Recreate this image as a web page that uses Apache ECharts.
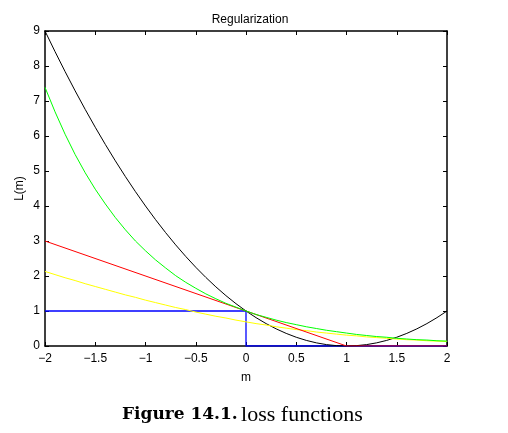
<!DOCTYPE html>
<html>
<head>
<meta charset="utf-8">
<script src="https://cdn.jsdelivr.net/npm/echarts@6/dist/echarts.min.js"></script>
<style>
  html, body { margin: 0; padding: 0; background: #fff; }
  #chart { width: 508px; height: 433px; }
</style>
</head>
<body>
<div id="chart"></div>
<script>
// margin values m, sampled every 0.1
var mVals = [-2, -1.9, -1.8, -1.7, -1.6, -1.5, -1.4, -1.3, -1.2, -1.1, -1, -0.9, -0.8, -0.7, -0.6, -0.5, -0.4, -0.3, -0.2, -0.1,
  0, 0.1, 0.2, 0.3, 0.4, 0.5, 0.6, 0.7, 0.8, 0.9, 1, 1.1, 1.2, 1.3, 1.4, 1.5, 1.6, 1.7, 1.8, 1.9, 2]

// squared loss (black)
var squareLoss = [9, 8.41, 7.84, 7.29, 6.76, 6.25, 5.76, 5.29, 4.84, 4.41, 4, 3.61, 3.24, 2.89, 2.56, 2.25, 1.96, 1.69, 1.44, 1.21,
  1, 0.81, 0.64, 0.49, 0.36, 0.25, 0.16, 0.09, 0.04, 0.01, 0, 0.01, 0.04, 0.09, 0.16, 0.25, 0.36, 0.49, 0.64, 0.81, 1]

// exponential loss (green)
var expLoss = [7.39, 6.69, 6.05, 5.47, 4.95, 4.48, 4.06, 3.67, 3.32, 3.0, 2.72, 2.46, 2.23, 2.01, 1.82, 1.65, 1.49, 1.35, 1.22, 1.11,
  1, 0.9, 0.82, 0.74, 0.67, 0.61, 0.55, 0.5, 0.45, 0.41, 0.37, 0.33, 0.3, 0.27, 0.25, 0.22, 0.2, 0.18, 0.17, 0.15, 0.14]

// logistic loss (yellow)
var logLoss = [2.13, 2.04, 1.95, 1.87, 1.78, 1.7, 1.62, 1.54, 1.46, 1.39, 1.31, 1.24, 1.17, 1.1, 1.04, 0.97, 0.91, 0.85, 0.8, 0.74,
  0.69, 0.64, 0.6, 0.55, 0.51, 0.47, 0.44, 0.4, 0.37, 0.34, 0.31, 0.29, 0.26, 0.24, 0.22, 0.2, 0.18, 0.17, 0.15, 0.14, 0.13]

// hinge loss (red), corner points
var hingeM = [-2, 1, 2]
var hingeLoss = [3, 0, 0]

// 0-1 loss (blue), step points
var stepM = [-2, 0, 0, 2]
var stepLoss = [1, 1, 0, 0]

var xTicks = ['\u22122', '\u22121.5', '\u22121', '\u22120.5', '0', '0.5', '1', '1.5', '2']

function pairs(xs, ys) {
  return xs.map(function (x, i) { return [x, ys[i]] })
}

var tickFont = { fontFamily: 'Liberation Sans, Arial, sans-serif', fontSize: 12, color: '#000' }
var frameLine = { show: true, onZero: false, lineStyle: { color: '#000', width: 1.5 } }
var innerTick = { show: true, inside: true, length: 4, lineStyle: { color: '#000' } }

var chart = echarts.init(document.getElementById('chart'))

var lineSeries = function (name, data, color, width) {
  return {
    name: name,
    type: 'line',
    data: data,
    showSymbol: false,
    symbol: 'none',
    lineStyle: { color: color, width: width || 1 },
    itemStyle: { color: color }
  }
}

chart.setOption({
  animation: false,
  backgroundColor: '#fff',
  title: {
    text: 'Regularization',
    left: 245,
    textAlign: 'center',
    top: 9,
    textStyle: { fontFamily: 'Liberation Sans, Arial, sans-serif', fontSize: 12, fontWeight: 'normal', color: '#000' }
  },
  grid: { left: 45, right: 61, top: 31, bottom: 87 },
  xAxis: [{
    type: 'value',
    min: -2,
    max: 2,
    interval: 0.5,
    name: 'm',
    nameLocation: 'middle',
    nameGap: 26,
    nameTextStyle: tickFont,
    axisLine: frameLine,
    axisTick: innerTick,
    axisLabel: Object.assign({ margin: 7, formatter: function (v) { return xTicks[Math.round((v + 2) * 2)] } }, tickFont),
    splitLine: { show: false }
  }, {
    type: 'value',
    position: 'top',
    min: -2,
    max: 2,
    interval: 0.5,
    axisLine: frameLine,
    axisTick: innerTick,
    axisLabel: { show: false },
    splitLine: { show: false }
  }],
  yAxis: [{
    type: 'value',
    min: 0,
    max: 9,
    interval: 1,
    name: 'L(m)',
    nameLocation: 'middle',
    nameGap: 19,
    nameMoveOverlap: false,
    nameTextStyle: tickFont,
    axisLine: frameLine,
    axisTick: innerTick,
    axisLabel: Object.assign({ margin: 5 }, tickFont),
    splitLine: { show: false }
  }, {
    type: 'value',
    position: 'right',
    min: 0,
    max: 9,
    interval: 1,
    axisLine: frameLine,
    axisTick: innerTick,
    axisLabel: { show: false },
    splitLine: { show: false }
  }],
  series: [
    lineSeries('0-1', pairs(stepM, stepLoss), '#0000ff', 1.3),
    lineSeries('square', pairs(mVals, squareLoss), '#000000'),
    lineSeries('logistic', pairs(mVals, logLoss), '#ffff00'),
    lineSeries('hinge', pairs(hingeM, hingeLoss), '#ff0000'),
    lineSeries('exp', pairs(mVals, expLoss), '#00ff00')
  ],
  graphic: [{
    type: 'text',
    left: 122,
    top: 404,
    style: {
      text: '{b|Figure 14.1.} {n|loss functions}',
      rich: {
        b: { fontFamily: 'DejaVu Serif, serif', fontSize: 17, fontWeight: 'bold', fill: '#000' },
        n: { fontFamily: 'Liberation Serif, Times New Roman, serif', fontSize: 22, fill: '#000' }
      }
    }
  }]
})
</script>
</body>
</html>
